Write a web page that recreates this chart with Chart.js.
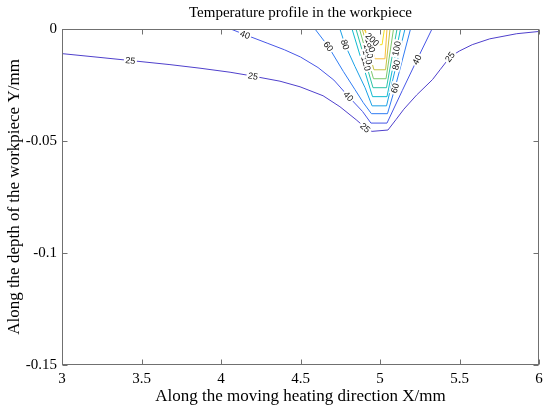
<!DOCTYPE html>
<html><head><meta charset="utf-8">
<script src="https://cdn.jsdelivr.net/npm/chart.js@4.4.1/dist/chart.umd.min.js"></script>
<style>html,body{margin:0;padding:0;background:#fff;}#wrap{width:550px;height:411px;position:relative;}</style>
</head><body><div id="wrap"><canvas id="c"></canvas></div>
<script>
// contour levels (temperature)
const levels = [25, 40, 60, 80, 100, 120, 140, 160, 180, 200];
// contour polylines (X/mm, Y/mm)
const c25X = [3.00, 3.239, 3.447, 3.679, 3.868, 4.057, 4.182, 4.371, 4.497, 4.642, 4.748, 4.85, 4.91, 4.95, 5.05, 5.10, 5.15, 5.23, 5.33, 5.38, 5.44, 5.50, 5.58, 5.69, 5.86, 6.00];
const c25Y = [-0.0110, -0.0127, -0.0142, -0.0159, -0.0175, -0.0193, -0.0208, -0.0233, -0.0258, -0.0298, -0.0347, -0.0405, -0.0442, -0.0457, -0.0451, -0.0405, -0.0358, -0.0295, -0.0226, -0.0180, -0.0125, -0.0098, -0.0070, -0.0044, -0.0021, -0.0011];
const c40X = [4.061, 4.15, 4.29, 4.40, 4.50, 4.61, 4.71, 4.80, 4.89, 4.943, 5.044, 5.14, 5.233, 5.327];
const c40Y = [0, -0.0025, -0.0063, -0.0093, -0.0125, -0.0172, -0.0228, -0.0300, -0.0368, -0.0420, -0.0420, -0.0275, -0.0137, 0];
const c60X = [4.591, 4.675, 4.769, 4.843, 4.895, 4.946, 5.047, 5.094, 5.192];
const c60Y = [0, -0.0078, -0.0189, -0.0271, -0.0329, -0.0378, -0.0378, -0.0264, 0];
const c80X = [4.748, 4.780, 4.843, 4.906, 4.950, 5.041, 5.157];
const c80Y = [0, -0.0070, -0.0168, -0.0262, -0.0343, -0.0343, 0];
const c100X = [4.824, 4.953, 5.044, 5.129];
const c100Y = [0, -0.0302, -0.0302, 0];
const c120X = [4.849, 4.956, 5.041, 5.107];
const c120Y = [0, -0.0262, -0.0262, 0];
const c140X = [4.871, 4.959, 5.038, 5.085];
const c140Y = [0, -0.0222, -0.0222, 0];
const c160X = [4.888, 4.962, 5.035, 5.063];
const c160Y = [0, -0.0182, -0.0182, 0];
const c180X = [4.905, 4.969, 5.031, 5.044];
const c180Y = [0, -0.0133, -0.0133, 0];
const c200X = [4.899, 4.918, 4.987, 5.013, 5.028];
const c200Y = [0, -0.0025, -0.0070, -0.0070, 0];
// contour label anchors
const labelLevel = [25, 25, 25, 25, 40, 40, 40, 60, 60, 80, 80, 100, 120, 140, 160, 180, 200];
const labelX = [3.43, 4.20, 4.906, 5.44, 4.151, 4.80, 5.233, 4.675, 5.094, 4.780, 5.100, 5.101, 4.906, 4.906, 4.912, 4.925, 4.950];
const labelY = [-0.0142, -0.0215, -0.0442, -0.0125, -0.0025, -0.0302, -0.0137, -0.0078, -0.0264, -0.0070, -0.0160, -0.0087, -0.0155, -0.0128, -0.0101, -0.0075, -0.0048];
// axis ticks
const xTicks = [3, 3.5, 4, 4.5, 5, 5.5, 6];
const yTicks = [0, -0.05, -0.1, -0.15];

const lineX = [c25X, c40X, c60X, c80X, c100X, c120X, c140X, c160X, c180X, c200X];
const lineY = [c25Y, c40Y, c60Y, c80Y, c100Y, c120Y, c140Y, c160Y, c180Y, c200Y];
const levelColors = ['#4f40cc', '#4756e6', '#2f7cf3', '#1aa0e6', '#0fbad0', '#2cc3a6', '#7cc86c', '#c7c040', '#f8bd3a', '#f2df1f'];

const datasets = levels.map((lv, i) => ({
  label: String(lv),
  data: lineX[i].map((x, k) => ({x: x, y: lineY[i][k]})),
  showLine: true, borderColor: levelColors[i], borderWidth: 1,
  pointRadius: 0, pointHoverRadius: 0, tension: 0, fill: false
}));

const serif = "'Liberation Serif', 'Times New Roman', serif";

const labelPlugin = {
  id: 'contourLabels',
  afterDatasetsDraw(chart) {
    const ctx = chart.ctx, sx = chart.scales.x, sy = chart.scales.y;
    ctx.save();
    ctx.font = "9px 'Liberation Sans', Arial, sans-serif";
    ctx.textAlign = 'center';
    ctx.textBaseline = 'middle';
    for (let i = 0; i < labelLevel.length; i++) {
      const di = levels.indexOf(labelLevel[i]);
      const pts = chart.data.datasets[di].data.map(p => ({x: sx.getPixelForValue(p.x), y: sy.getPixelForValue(p.y)}));
      const px = sx.getPixelForValue(labelX[i]), py = sy.getPixelForValue(labelY[i]);
      let best = null;
      for (let k = 0; k < pts.length - 1; k++) {
        const a = pts[k], b = pts[k + 1];
        const dx = b.x - a.x, dy = b.y - a.y;
        let t = ((px - a.x) * dx + (py - a.y) * dy) / (dx * dx + dy * dy);
        t = Math.max(0, Math.min(1, t));
        const qx = a.x + t * dx, qy = a.y + t * dy;
        const d = Math.hypot(px - qx, py - qy);
        if (!best || d < best.d) best = {d, qx, qy, ang: Math.atan2(dy, dx)};
      }
      let ang = best.ang;
      if (ang > Math.PI / 2) ang -= Math.PI;
      if (ang < -Math.PI / 2) ang += Math.PI;
      const txt = String(labelLevel[i]);
      const w = ctx.measureText(txt).width;
      ctx.save();
      ctx.translate(best.qx, best.qy);
      ctx.rotate(ang);
      ctx.fillStyle = '#fff';
      ctx.fillRect(-w / 2 - 1.5, -4.5, w + 3, 9);
      ctx.fillStyle = '#111';
      ctx.fillText(txt, 0, 0.5);
      ctx.restore();
    }
    ctx.restore();
  }
};

const framePlugin = {
  id: 'frame',
  afterDraw(chart) {
    const ctx = chart.ctx, a = chart.chartArea, sx = chart.scales.x, sy = chart.scales.y;
    const L = Math.round(a.left) + 0.5, R = Math.round(a.right) - 0.5, T = Math.round(a.top) + 0.5, B = Math.round(a.bottom) - 0.5;
    ctx.save();
    ctx.strokeStyle = '#707070';
    ctx.lineWidth = 1;
    ctx.strokeRect(L, T, R - L, B - T);
    const tl = 5;
    ctx.beginPath();
    xTicks.forEach(v => {
      const x = Math.round(sx.getPixelForValue(v)) + 0.5;
      ctx.moveTo(x, B); ctx.lineTo(x, B - tl);
      ctx.moveTo(x, T); ctx.lineTo(x, T + tl);
    });
    yTicks.forEach(v => {
      const y = Math.round(sy.getPixelForValue(v)) + 0.5;
      ctx.moveTo(L, y); ctx.lineTo(L + tl, y);
      ctx.moveTo(R, y); ctx.lineTo(R - tl, y);
    });
    ctx.stroke();
    ctx.restore();
  }
};

new Chart(document.getElementById('c'), {
  type: 'scatter',
  data: {datasets},
  options: {
    responsive: true, maintainAspectRatio: false, animation: false,
    layout: {padding: {left: 0, right: 11, top: 0, bottom: 0}},
    plugins: {
      legend: {display: false},
      tooltip: {enabled: false},
      title: {display: true, text: 'Temperature profile in the workpiece', fullSize: false,
        color: '#000', font: {family: serif, size: 15, weight: 'normal'}, padding: {top: 4, bottom: 7}}
    },
    scales: {
      x: {
        type: 'linear', min: 3, max: 6,
        afterBuildTicks: s => { s.ticks = xTicks.map(v => ({value: v})); },
        afterFit: s => { s.height = 46; },
        grid: {display: false, drawTicks: false}, border: {display: false},
        ticks: {color: '#000', font: {family: serif, size: 15}, padding: 5, maxRotation: 0, autoSkip: false,
          callback: v => String(v)},
        title: {display: true, text: 'Along the moving heating direction X/mm', color: '#000',
          font: {family: serif, size: 17}, padding: {top: 2, bottom: 4}}
      },
      y: {
        type: 'linear', min: -0.15, max: 0,
        afterBuildTicks: s => { s.ticks = yTicks.map(v => ({value: v})); },
        afterFit: s => { s.width = 62; },
        grid: {display: false, drawTicks: false}, border: {display: false},
        ticks: {color: '#000', font: {family: serif, size: 15}, padding: 5, autoSkip: false,
          callback: v => String(v)},
        title: {display: true, text: 'Along the depth of the workpiece Y/mm', color: '#000',
          font: {family: serif, size: 17}, padding: {top: 4, bottom: 2}}
      }
    }
  },
  plugins: [labelPlugin, framePlugin]
});
</script></body></html>
